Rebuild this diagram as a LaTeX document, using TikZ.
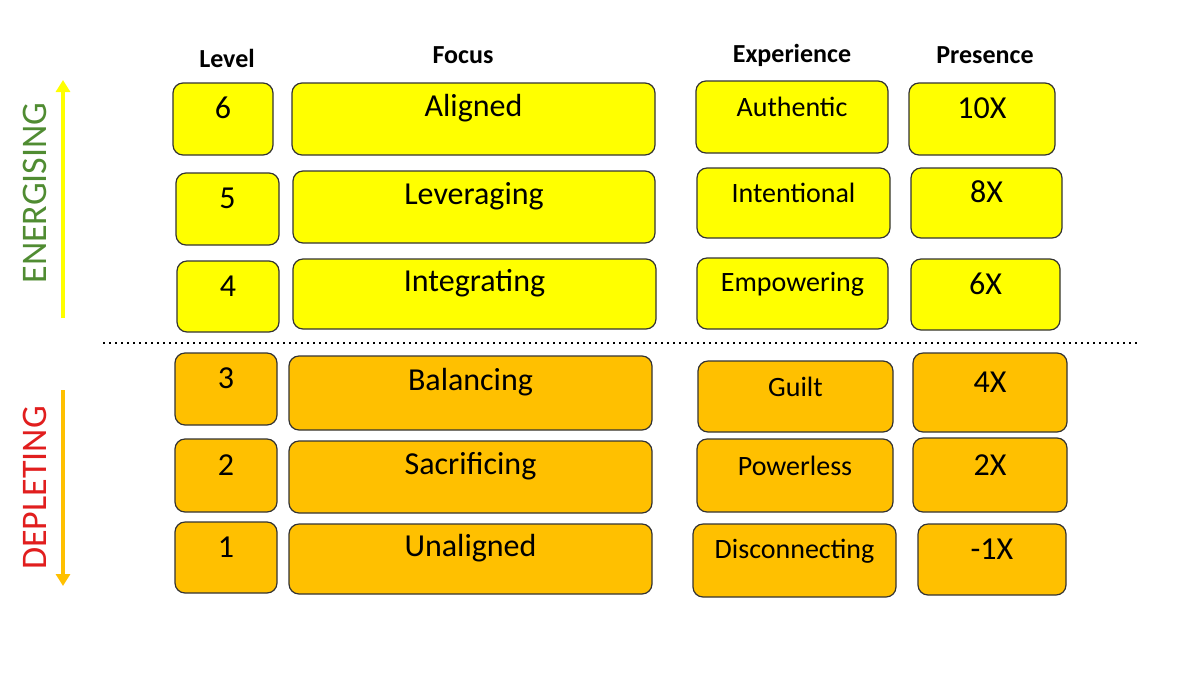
\documentclass[tikz,border=0pt]{standalone}
\usepackage{fontspec}
\setmainfont{Carlito}
\usetikzlibrary{fit,arrows.meta}
\definecolor{yel}{RGB}{255,255,0}
\definecolor{org}{RGB}{255,192,0}
\definecolor{grn}{RGB}{80,140,50}
\definecolor{rd}{RGB}{225,30,30}
\tikzset{
 bx/.style={draw=black!80,line width=0.6pt,rounded corners=5pt,inner sep=0pt},
 yb/.style={bx,fill=yel},
 ob/.style={bx,fill=org},
 big/.style={font=\fontsize{16}{18}\selectfont},
 med/.style={font=\fontsize{14}{16}\selectfont},
 hd/.style={font=\bfseries\fontsize{13}{15}\selectfont}
}
\newcommand\bxx[7]{\node[#1,fit={(#3,#4)(#5,#6)}] (#2) {#7};}
\begin{document}
\begin{tikzpicture}[x=0.5pt,y=-0.5pt]
\useasboundingbox[fill=white] (0,0) rectangle (1200,676);
\node[hd] (h1) at (227,58) {Level};
\node[hd] (h2) at (463,55) {Focus};
\node[hd] (h3) at (792,55) {Experience};
\node[hd] (h4) at (985,55) {Presence};
% row 6
\bxx{yb,big}{l6}{173}{83}{273}{155}{6}
\bxx{yb,big}{f6}{292}{83}{655}{155}{Aligned}
\bxx{yb,med}{e6}{696}{81}{888}{153}{Authentic}
\bxx{yb,big}{p6}{909}{83}{1055}{155}{10X}
% row 5
\bxx{yb,big}{l5}{176}{173}{279}{245}{5}
\bxx{yb,big}{f5}{293}{171}{655}{243}{Leveraging}
\bxx{yb,med}{e5}{697}{168}{890}{238}{Intentional}
\bxx{yb,big}{p5}{911}{168}{1062}{238}{8X}
% row 4
\bxx{yb,big}{l4}{177}{261}{279}{332}{4}
\bxx{yb,big}{f4}{293}{259}{656}{329}{Integrating}
\bxx{yb,med}{e4}{697}{258}{888}{329}{Empowering}
\bxx{yb,big}{p4}{911}{259}{1060}{330}{6X}
% divider
\coordinate (d1) at (103,343); \coordinate (d2) at (1140,343);
\draw[dotted,line width=1pt] (d1) -- (d2);
% row 3
\bxx{ob,big}{l3}{175}{353}{277}{425}{3}
\bxx{ob,big}{f3}{289}{356}{652}{430}{Balancing}
\bxx{ob,med}{e3}{698}{361}{893}{432}{Guilt}
\bxx{ob,big}{p3}{913}{353}{1067}{432}{4X}
% row 2
\bxx{ob,big}{l2}{175}{439}{277}{512}{2}
\bxx{ob,big}{f2}{289}{441}{652}{513}{Sacrificing}
\bxx{ob,med}{e2}{697}{439}{893}{512}{Powerless}
\bxx{ob,big}{p2}{913}{438}{1067}{512}{2X}
% row 1
\bxx{ob,big}{l1}{175}{522}{277}{593}{1}
\bxx{ob,big}{f1}{289}{524}{652}{594}{Unaligned}
\bxx{ob,med}{e1}{693}{524}{896}{597}{Disconnecting}
\bxx{ob,big}{p1}{918}{524}{1066}{595}{-1X}
% side labels
\node[rotate=90,text=grn,font=\fontsize{18}{20}\selectfont] (en) at (35,193) {ENERGISING};
\node[rotate=90,text=rd,font=\fontsize{18}{20}\selectfont] (de) at (35,488) {DEPLETING};
\coordinate (a1) at (63,318); \coordinate (a2) at (63,80);
\draw[yel,line width=2pt,-{Triangle[width=7pt,length=6pt]}] (a1) -- (a2);
\coordinate (b1) at (63,390); \coordinate (b2) at (63,586);
\draw[org,line width=2pt,-{Triangle[width=7pt,length=6pt]}] (b1) -- (b2);
\end{tikzpicture}
\end{document}
